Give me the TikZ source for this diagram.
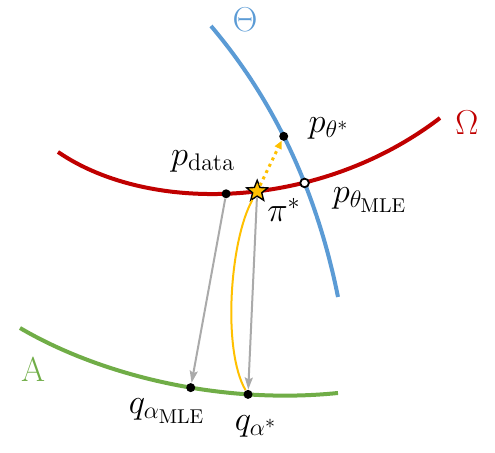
\documentclass[tikz,border=0pt]{standalone}
\usetikzlibrary{shapes.geometric,arrows.meta}
\DeclareMathSizes{17}{17}{12.5}{10}
\definecolor{cblue}{RGB}{91,155,213}
\definecolor{cred}{RGB}{192,0,0}
\definecolor{cgreen}{RGB}{112,173,71}
\definecolor{cgray}{RGB}{170,170,170}
\definecolor{cyellow}{RGB}{255,192,0}
\tikzset{
  manifold/.style={line width=2pt},
  dotnode/.style={circle,fill=black,inner sep=0pt,minimum size=4.5pt},
  opennode/.style={circle,draw=black,fill=white,line width=0.9pt,inner sep=0pt,minimum size=4.3pt},
  starnode/.style={star,star points=5,star point ratio=2.3,draw=black,fill=cyellow,line width=0.7pt,inner sep=0pt,minimum size=11pt},
  lab/.style={font=\fontsize{17}{20}\selectfont,inner sep=0pt},
  grayarrow/.style={cgray,line width=1pt,-{Stealth[length=6pt,width=4pt,inset=1pt]}},
  yellowline/.style={cyellow,line width=1pt},
  yellowdot/.style={cyellow,line width=1.5pt,dotted,-{Triangle[length=4pt,width=3.6pt]}}
}
\begin{document}
\begin{tikzpicture}[x=0.5pt,y=-0.5pt]
\useasboundingbox (0,0) rectangle (495,453);
% manifolds
\draw[manifold,cblue] (211,26) .. controls (274.3,100.7) and (316.7,191) .. (338,297)
  coordinate[pos=0.45] (cth) coordinate[pos=0.62] (cml);
\draw[manifold,cred] (58,152) .. controls (150,215) and (320,210) .. (440,118)
  coordinate[pos=0.47] (cpd) coordinate[pos=0.545] (cps);
\draw[manifold,cgreen] (20,328) .. controls (100,375) and (220,405) .. (338,393)
  coordinate[pos=0.578] (cqm) coordinate[pos=0.745] (cqs);
% points
\node[dotnode] (pth) at (cth) {};
\node[opennode] (pml) at (cml) {};
\node[dotnode] (pdata) at (cpd) {};
\node[starnode] (pistar) at (cps) {};
\node[dotnode] (qmle) at (cqm) {};
\node[dotnode] (qstar) at (cqs) {};
% connectors
\draw[grayarrow] (pdata) -- (qmle);
\draw[grayarrow] (pistar) -- (qstar);
\draw[yellowline] (qstar) .. controls (222,350) and (230,240) .. (pistar);
\draw[yellowdot] (pistar) -- (pth);
% labels
\node[lab,text=cblue] (lTheta) at (245,20) {$\Theta$};
\node[lab,text=cred] (lOmega) at (467,123) {$\Omega$};
\node[lab,text=cgreen] (lA) at (33,370) {$\mathrm{A}$};
\node[lab] (lpth) at (329,128) {$p_{\theta^*}$};
\node[lab] (lpml) at (370,200) {$p_{\theta_{\mathrm{MLE}}}$};
\node[lab] (lpd) at (203,161) {$p_{\mathrm{data}}$};
\node[lab] (lpi) at (284,210) {$\pi^*$};
\node[lab] (lqm) at (167,411) {$q_{\alpha_{\mathrm{MLE}}}$};
\node[lab] (lqs) at (256,426) {$q_{\alpha^*}$};
\end{tikzpicture}
\end{document}
